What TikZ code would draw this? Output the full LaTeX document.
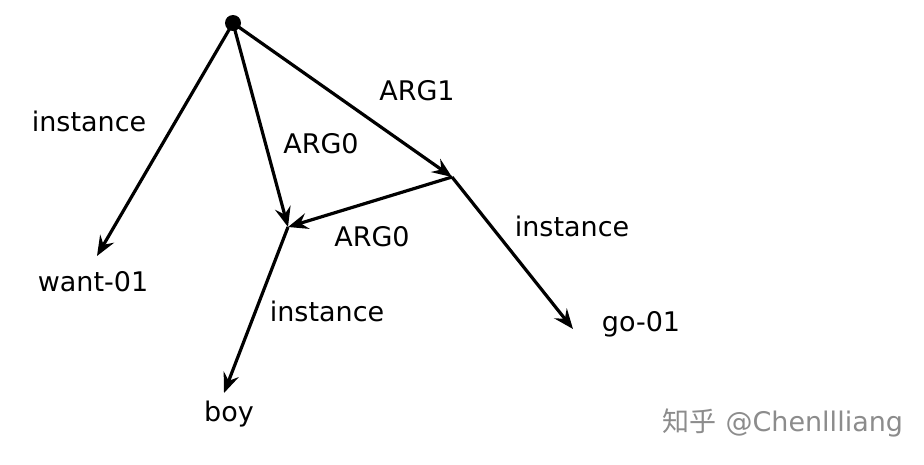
\documentclass[tikz,border=0pt]{standalone}
\usepackage{fontspec}
\setmainfont{DejaVu Sans}
\newfontfamily\cjk{Noto Sans CJK SC}
\usetikzlibrary{arrows.meta}
\begin{document}
\begin{tikzpicture}[x=1pt,y=-1pt,
  edge/.style={line width=3.2pt,-{Stealth[length=20pt,width=16pt,inset=7pt]}},
  lbl/.style={font=\fontsize{27}{31}\selectfont,inner sep=0pt}]
\useasboundingbox[fill=white] (0,0) rectangle (924,464);
\fill (233,23) circle (8);
\coordinate (r) at (233,23);
\coordinate (g) at (452,177);
\coordinate (b) at (288,227);
\coordinate (w) at (97,256);
\coordinate (go) at (573,329);
\coordinate (by) at (224,393);
\draw[edge] (r) -- (w);
\draw[edge] (r) -- (b);
\draw[edge] (r) -- (g);
\draw[edge] (g) -- (b);
\draw[edge] (g) -- (go);
\draw[edge] (b) -- (by);
\node[lbl] (l1) at (89,121) {instance};
\node[lbl] (l2) at (321,144) {ARG0};
\node[lbl] (l3) at (417,91) {ARG1};
\node[lbl] (l4) at (372,237) {ARG0};
\node[lbl] (l5) at (572,226) {instance};
\node[lbl] (l6) at (93,282) {want-01};
\node[lbl] (l7) at (327,311) {instance};
\node[lbl] (l8) at (641,324) {go-01};
\node[lbl] (l9) at (229,414) {boy};
\node[lbl,text=black!45] (wm) at (783,423) {{\cjk 知乎} @Chenllliang};
\end{tikzpicture}
\end{document}
